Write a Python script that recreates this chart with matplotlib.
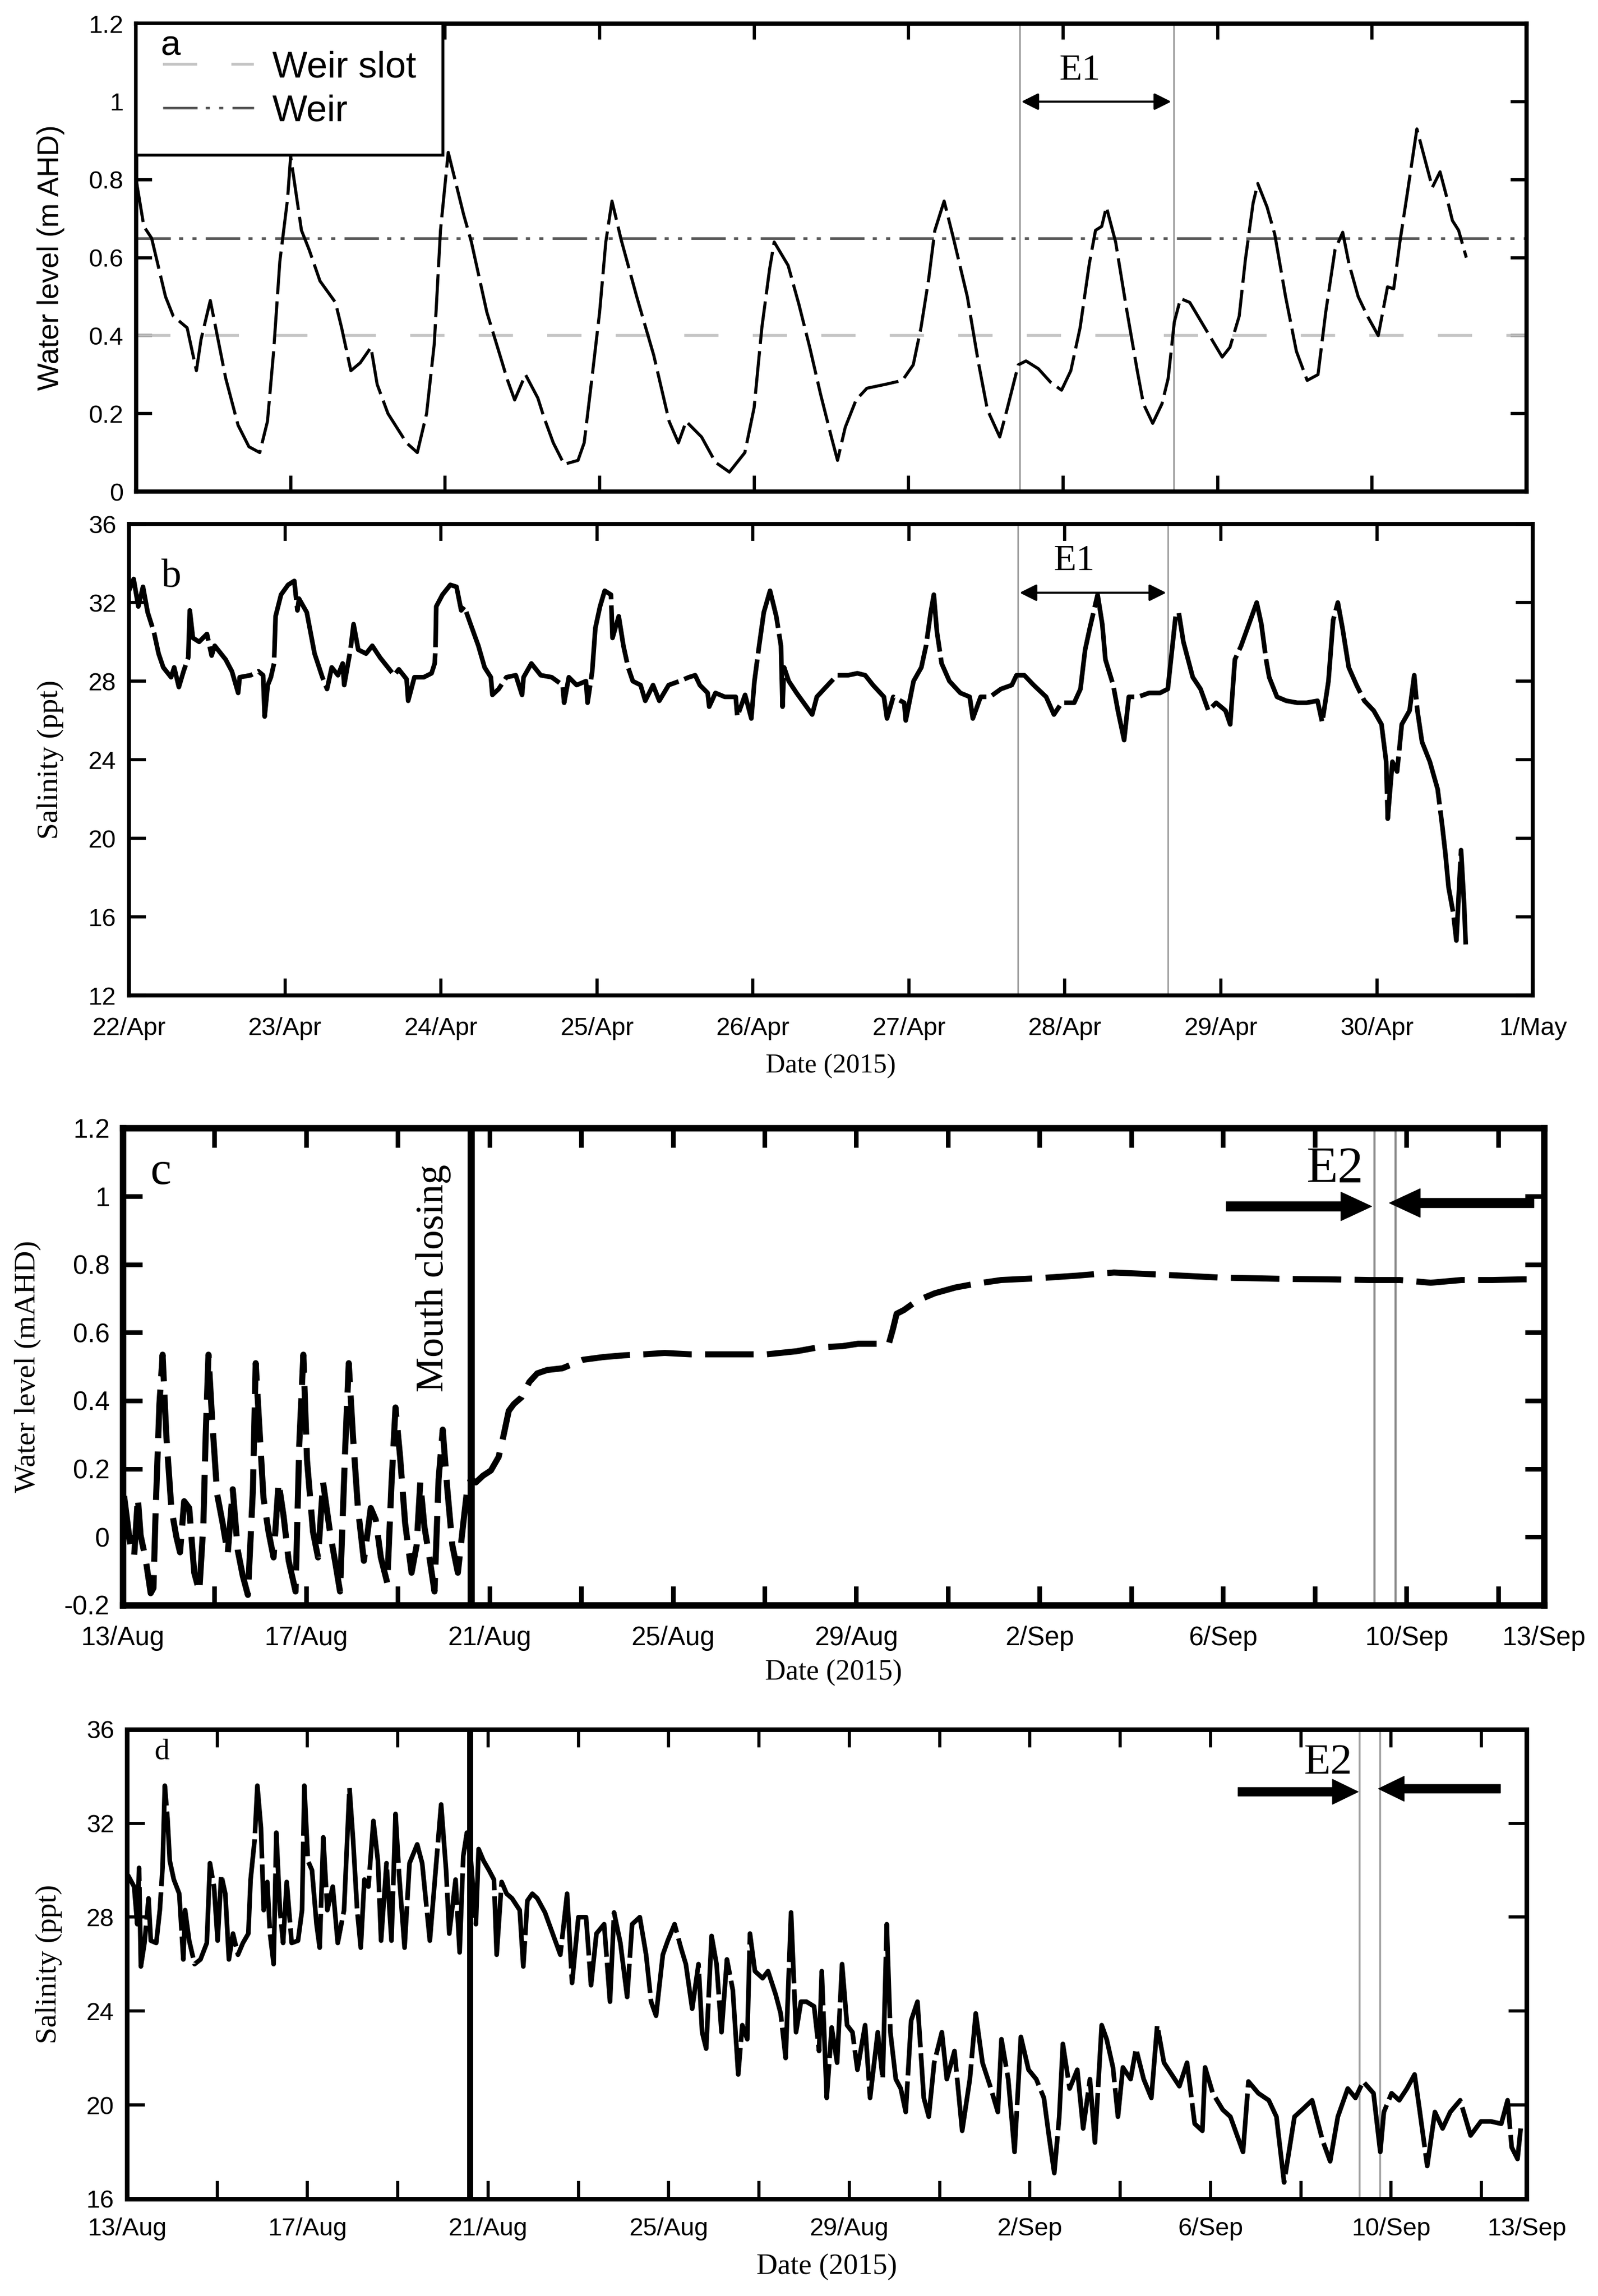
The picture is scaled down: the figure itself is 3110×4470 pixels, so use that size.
import matplotlib.pyplot as plt

plt.rcParams['font.family'] = ['Liberation Sans', 'DejaVu Sans']
SERIF = 'Liberation Serif'

#------------------------------------------------------------------------------
# Data  (time in days since 22/Apr/2015 00:00 for a,b and since 13/Aug/2015 for c,d)

# a: water level (m AHD), April
wl_apr = [
    (0.00, 0.80), (0.05, 0.68), (0.10, 0.65), (0.19, 0.50), (0.24, 0.45), (0.33, 0.42),
    (0.39, 0.31), (0.42, 0.39), (0.48, 0.49), (0.52, 0.41), (0.58, 0.29), (0.66, 0.17),
    (0.73, 0.115), (0.80, 0.10), (0.85, 0.18), (0.89, 0.36), (0.93, 0.59), (0.98, 0.75),
    (1.00, 0.86), (1.07, 0.67), (1.12, 0.62), (1.19, 0.54), (1.29, 0.485), (1.33, 0.42),
    (1.39, 0.31), (1.45, 0.33), (1.52, 0.37), (1.56, 0.275), (1.63, 0.20), (1.75, 0.125),
    (1.82, 0.10), (1.88, 0.20), (1.93, 0.38), (1.97, 0.67), (2.02, 0.87), (2.12, 0.71),
    (2.17, 0.64), (2.27, 0.46), (2.37, 0.33), (2.40, 0.29), (2.45, 0.235), (2.52, 0.30),
    (2.60, 0.24), (2.64, 0.19), (2.70, 0.125), (2.77, 0.07), (2.86, 0.08), (2.90, 0.125),
    (2.95, 0.29), (3.00, 0.46), (3.04, 0.64), (3.08, 0.745), (3.14, 0.645), (3.24, 0.50),
    (3.35, 0.35), (3.45, 0.18), (3.51, 0.125), (3.56, 0.18), (3.66, 0.14), (3.75, 0.075),
    (3.84, 0.05), (3.94, 0.10), (4.00, 0.215), (4.05, 0.42), (4.10, 0.57), (4.13, 0.64),
    (4.22, 0.58), (4.29, 0.48), (4.36, 0.37), (4.43, 0.25), (4.50, 0.14), (4.54, 0.08),
    (4.59, 0.165), (4.66, 0.235), (4.73, 0.265), (4.85, 0.275), (4.96, 0.285), (5.03, 0.325),
    (5.08, 0.42), (5.13, 0.545), (5.17, 0.67), (5.23, 0.745), (5.29, 0.65), (5.38, 0.50),
    (5.45, 0.335), (5.51, 0.21), (5.59, 0.14), (5.64, 0.215), (5.71, 0.325), (5.76, 0.335),
    (5.84, 0.315), (5.92, 0.28), (5.99, 0.26), (6.05, 0.31), (6.11, 0.42), (6.17, 0.585),
    (6.21, 0.67), (6.25, 0.68), (6.28, 0.73), (6.34, 0.64), (6.41, 0.47), (6.48, 0.31),
    (6.52, 0.225), (6.58, 0.175), (6.64, 0.225), (6.68, 0.29), (6.72, 0.435), (6.76, 0.495),
    (6.82, 0.485), (6.91, 0.425), (6.97, 0.385), (7.03, 0.345), (7.08, 0.37), (7.14, 0.45),
    (7.18, 0.595), (7.23, 0.74), (7.26, 0.79), (7.32, 0.73), (7.37, 0.66), (7.44, 0.50),
    (7.51, 0.36), (7.58, 0.285), (7.65, 0.30), (7.70, 0.46), (7.76, 0.62), (7.81, 0.665),
    (7.85, 0.585), (7.91, 0.50), (7.97, 0.45), (8.04, 0.40), (8.10, 0.525), (8.14, 0.52),
    (8.18, 0.64), (8.23, 0.77), (8.29, 0.93), (8.34, 0.855), (8.39, 0.78), (8.44, 0.82),
    (8.48, 0.76), (8.52, 0.695), (8.56, 0.67), (8.61, 0.60),
]

# b: salinity (ppt), April
sal_apr = [
    (0.00, 32.6), (0.03, 33.2), (0.06, 31.8), (0.09, 32.8), (0.12, 31.5), (0.16, 30.5),
    (0.19, 29.4), (0.22, 28.7), (0.27, 28.2), (0.29, 28.7), (0.32, 27.7), (0.35, 28.5),
    (0.38, 29.2), (0.39, 31.6), (0.41, 30.2), (0.45, 30.0), (0.50, 30.4), (0.53, 29.3),
    (0.55, 29.8), (0.62, 29.1), (0.66, 28.5), (0.70, 27.4), (0.71, 28.2), (0.78, 28.3),
    (0.83, 28.5), (0.86, 28.3), (0.87, 26.2), (0.89, 27.8), (0.91, 28.2), (0.93, 28.9),
    (0.94, 31.3), (0.975, 32.4), (1.02, 32.9), (1.06, 33.1), (1.08, 31.6), (1.09, 32.2),
    (1.14, 31.5), (1.19, 29.4), (1.24, 28.2), (1.27, 27.6), (1.30, 28.7), (1.34, 28.3),
    (1.37, 28.9), (1.38, 27.8), (1.42, 29.6), (1.44, 30.9), (1.47, 29.6), (1.52, 29.4),
    (1.56, 29.8), (1.61, 29.2), (1.66, 28.7), (1.70, 28.3), (1.73, 28.6), (1.78, 28.1),
    (1.79, 27.0), (1.83, 28.2), (1.89, 28.2), (1.94, 28.4), (1.96, 28.9), (1.965, 29.6),
    (1.97, 31.8), (2.01, 32.4), (2.06, 32.9), (2.10, 32.8), (2.13, 31.6), (2.15, 31.8),
    (2.19, 30.9), (2.24, 29.8), (2.28, 28.7), (2.32, 28.2), (2.33, 27.3), (2.37, 27.6),
    (2.42, 28.2), (2.48, 28.3), (2.52, 27.3), (2.53, 28.2), (2.58, 28.9), (2.64, 28.3),
    (2.71, 28.2), (2.78, 27.8), (2.79, 26.9), (2.82, 28.2), (2.87, 27.8), (2.93, 28.0),
    (2.94, 26.9), (2.97, 28.5), (2.99, 30.7), (3.02, 31.8), (3.05, 32.6), (3.09, 32.4),
    (3.10, 30.2), (3.14, 31.3), (3.17, 29.8), (3.20, 28.7), (3.23, 28.0), (3.28, 27.8),
    (3.31, 27.0), (3.36, 27.8), (3.40, 27.0), (3.46, 27.8), (3.53, 28.0), (3.59, 28.2),
    (3.63, 28.3), (3.66, 27.8), (3.71, 27.4), (3.72, 26.7), (3.76, 27.4), (3.82, 27.2),
    (3.89, 27.2), (3.90, 26.2), (3.95, 27.3), (3.99, 26.1), (4.01, 28.0), (4.04, 29.8),
    (4.07, 31.5), (4.11, 32.6), (4.15, 31.3), (4.18, 29.8), (4.19, 26.7), (4.20, 28.7),
    (4.23, 28.0), (4.28, 27.4), (4.38, 26.3), (4.41, 27.2), (4.48, 27.8), (4.54, 28.3),
    (4.61, 28.3), (4.67, 28.4), (4.72, 28.3), (4.77, 27.8), (4.84, 27.2), (4.86, 26.1),
    (4.90, 27.2), (4.97, 26.9), (4.98, 26.0), (5.03, 28.0), (5.08, 28.7), (5.11, 29.8),
    (5.14, 31.5), (5.16, 32.4), (5.18, 30.5), (5.21, 28.9), (5.26, 28.0), (5.33, 27.4),
    (5.39, 27.2), (5.41, 26.1), (5.46, 27.2), (5.52, 27.2), (5.59, 27.6), (5.66, 27.8),
    (5.69, 28.3), (5.74, 28.3), (5.80, 27.8), (5.88, 27.2), (5.93, 26.3), (5.98, 26.9),
    (6.06, 26.9), (6.10, 27.6), (6.13, 29.6), (6.16, 30.7), (6.21, 32.4), (6.24, 30.9),
    (6.26, 29.1), (6.31, 27.8), (6.34, 26.5), (6.38, 25.0), (6.41, 27.2), (6.47, 27.2),
    (6.54, 27.4), (6.61, 27.4), (6.66, 27.6), (6.71, 31.3), (6.73, 31.5), (6.76, 30.0),
    (6.79, 29.1), (6.82, 28.2), (6.87, 27.6), (6.92, 26.5), (6.97, 26.9), (7.03, 26.5),
    (7.06, 25.8), (7.09, 29.1), (7.13, 29.8), (7.18, 30.9), (7.23, 32.0), (7.26, 30.9),
    (7.29, 29.1), (7.31, 28.2), (7.36, 27.2), (7.42, 27.0), (7.49, 26.9), (7.55, 26.9),
    (7.62, 27.0), (7.65, 25.9), (7.69, 28.0), (7.72, 31.1), (7.75, 32.0), (7.78, 30.7),
    (7.82, 28.7), (7.87, 27.8), (7.92, 27.0), (7.98, 26.5), (8.03, 25.8), (8.06, 23.9),
    (8.07, 21.0), (8.10, 23.9), (8.13, 23.4), (8.16, 25.8), (8.21, 26.5), (8.24, 28.3),
    (8.26, 26.5), (8.29, 24.9), (8.34, 23.9), (8.39, 22.5), (8.42, 20.6), (8.44, 19.2),
    (8.46, 17.5), (8.49, 16.2), (8.51, 14.8), (8.54, 19.4), (8.56, 16.6), (8.57, 14.6),
]

# c: water level (mAHD), August-September
wl_aug = [
    (0.03, 0.12), (0.17, -0.03), (0.25, -0.055), (0.33, 0.115), (0.39, 0.005), (0.50, -0.065),
    (0.61, -0.165), (0.67, -0.15), (0.72, 0.085), (0.80, 0.39), (0.87, 0.535), (0.95, 0.30),
    (1.06, 0.085), (1.17, 0.0), (1.25, -0.045), (1.34, 0.105), (1.45, 0.085), (1.56, -0.105),
    (1.67, -0.16), (1.76, 0.04), (1.81, 0.30), (1.87, 0.535), (1.95, 0.345), (2.06, 0.125),
    (2.18, 0.04), (2.29, -0.05), (2.40, 0.14), (2.51, -0.04), (2.62, -0.115), (2.73, -0.17),
    (2.84, 0.14), (2.90, 0.51), (2.99, 0.30), (3.07, 0.115), (3.18, 0.015), (3.29, -0.06),
    (3.40, 0.16), (3.51, 0.06), (3.62, -0.07), (3.77, -0.16), (3.85, 0.27), (3.94, 0.535),
    (4.02, 0.225), (4.15, 0.015), (4.26, -0.06), (4.37, 0.16), (4.52, 0.015), (4.63, -0.07),
    (4.74, -0.16), (4.85, 0.25), (4.93, 0.51), (5.02, 0.30), (5.13, 0.085), (5.26, -0.07),
    (5.41, 0.085), (5.52, 0.05), (5.63, -0.06), (5.77, -0.135), (5.86, 0.15), (5.95, 0.38),
    (6.05, 0.235), (6.16, 0.04), (6.30, -0.105), (6.41, -0.025), (6.49, 0.16), (6.58, 0.03),
    (6.69, -0.06), (6.80, -0.16), (6.89, 0.17), (6.98, 0.315), (7.08, 0.14), (7.19, -0.025),
    (7.31, -0.105), (7.42, 0.03), (7.50, 0.125), (7.59, 0.17), (7.70, 0.16), (7.86, 0.18),
    (8.03, 0.195), (8.20, 0.235), (8.31, 0.30), (8.42, 0.37), (8.53, 0.39), (8.70, 0.41),
    (8.87, 0.455), (9.04, 0.48), (9.26, 0.49), (9.59, 0.495), (10.04, 0.52), (10.49, 0.528),
    (10.93, 0.533), (11.38, 0.536), (11.82, 0.54), (12.38, 0.536), (12.94, 0.536), (13.50, 0.536),
    (14.05, 0.536), (14.70, 0.545), (15.15, 0.556), (15.70, 0.56), (16.04, 0.567), (16.71, 0.567),
    (16.80, 0.61), (16.88, 0.655), (17.04, 0.666), (17.32, 0.693), (17.71, 0.715), (18.16, 0.732),
    (18.60, 0.743), (19.16, 0.754), (19.94, 0.759), (20.83, 0.767), (21.62, 0.776), (22.29, 0.772),
    (23.07, 0.767), (23.96, 0.761), (24.74, 0.759), (25.41, 0.757), (26.30, 0.756), (27.19, 0.754),
    (27.86, 0.754), (28.53, 0.746), (29.20, 0.754), (29.87, 0.754), (30.54, 0.756), (30.87, 0.756),
]

# d: salinity (ppt), August-September
sal_aug = [
    (0.02, 29.8), (0.16, 29.3), (0.23, 27.7), (0.27, 30.1), (0.31, 25.9), (0.39, 26.9),
    (0.48, 28.8), (0.53, 27.0), (0.65, 26.9), (0.73, 28.3), (0.79, 30.1), (0.84, 33.6),
    (0.90, 32.2), (0.95, 30.4), (1.04, 29.6), (1.16, 29.0), (1.25, 26.2), (1.29, 28.3),
    (1.38, 27.0), (1.50, 26.0), (1.63, 26.2), (1.77, 26.9), (1.84, 30.3), (1.93, 29.3),
    (2.01, 27.0), (2.09, 29.8), (2.18, 29.0), (2.26, 26.2), (2.35, 27.3), (2.46, 26.4),
    (2.57, 26.9), (2.69, 27.3), (2.74, 29.6), (2.83, 31.3), (2.89, 33.6), (2.97, 31.8),
    (3.03, 28.3), (3.11, 29.5), (3.17, 27.3), (3.25, 26.0), (3.31, 31.6), (3.39, 28.3),
    (3.46, 26.9), (3.54, 29.5), (3.65, 26.9), (3.79, 27.0), (3.88, 28.3), (3.93, 33.6),
    (4.01, 30.4), (4.10, 30.0), (4.20, 27.7), (4.27, 26.7), (4.35, 31.4), (4.44, 28.3),
    (4.56, 29.3), (4.67, 26.9), (4.81, 28.3), (4.93, 33.5), (5.01, 31.3), (5.10, 28.3),
    (5.18, 26.7), (5.26, 29.6), (5.35, 29.3), (5.46, 32.1), (5.56, 30.4), (5.63, 27.0),
    (5.75, 30.3), (5.86, 27.0), (5.95, 32.4), (6.03, 29.8), (6.15, 26.7), (6.26, 30.3),
    (6.43, 31.1), (6.54, 30.3), (6.71, 27.0), (6.83, 29.8), (6.96, 32.8), (7.07, 30.0),
    (7.14, 27.3), (7.28, 29.6), (7.37, 26.5), (7.45, 30.6), (7.53, 31.6), (7.62, 30.4),
    (7.73, 27.7), (7.79, 30.9), (7.90, 30.4), (8.02, 30.0), (8.13, 29.6), (8.19, 26.4),
    (8.30, 29.5), (8.41, 29.0), (8.53, 28.8), (8.70, 28.3), (8.78, 25.9), (8.87, 28.7),
    (8.98, 29.0), (9.09, 28.8), (9.26, 28.2), (9.43, 27.3), (9.60, 26.4), (9.75, 29.0),
    (9.86, 25.2), (10.00, 28.0), (10.17, 28.0), (10.28, 25.1), (10.40, 27.3), (10.57, 27.7),
    (10.70, 24.4), (10.79, 28.2), (10.93, 26.9), (11.08, 24.6), (11.19, 27.7), (11.36, 28.0),
    (11.50, 26.4), (11.61, 24.4), (11.72, 23.8), (11.87, 26.4), (11.98, 27.0), (12.13, 27.7),
    (12.27, 26.7), (12.38, 26.0), (12.52, 24.1), (12.66, 26.0), (12.74, 23.1), (12.83, 22.4),
    (12.95, 27.2), (13.06, 26.0), (13.17, 23.1), (13.29, 26.2), (13.42, 24.9), (13.54, 21.3),
    (13.63, 23.4), (13.74, 22.8), (13.80, 27.3), (13.91, 25.7), (14.08, 25.4), (14.20, 25.7),
    (14.37, 24.7), (14.48, 23.9), (14.59, 22.0), (14.71, 28.2), (14.82, 23.1), (14.93, 24.4),
    (15.05, 24.4), (15.22, 24.2), (15.33, 22.3), (15.39, 25.7), (15.50, 20.3), (15.61, 23.3),
    (15.73, 21.8), (15.84, 26.0), (15.95, 23.4), (16.07, 23.1), (16.18, 21.5), (16.35, 23.4),
    (16.46, 20.3), (16.63, 23.1), (16.74, 21.1), (16.83, 27.7), (16.91, 23.1), (17.03, 21.1),
    (17.14, 20.7), (17.25, 19.7), (17.37, 23.6), (17.51, 24.4), (17.65, 20.3), (17.76, 19.5),
    (17.88, 21.8), (18.05, 23.1), (18.16, 21.1), (18.33, 22.3), (18.50, 18.9), (18.67, 21.1),
    (18.80, 23.9), (18.95, 21.8), (19.12, 20.8), (19.29, 19.7), (19.37, 22.8), (19.52, 21.1),
    (19.66, 18.0), (19.80, 22.9), (19.97, 21.5), (20.14, 21.1), (20.31, 20.3), (20.42, 18.7),
    (20.54, 17.1), (20.65, 19.5), (20.73, 22.6), (20.88, 20.7), (21.05, 21.5), (21.18, 19.0),
    (21.33, 21.1), (21.44, 18.4), (21.59, 23.4), (21.70, 22.8), (21.84, 21.6), (21.95, 19.5),
    (22.06, 21.6), (22.23, 21.1), (22.35, 22.4), (22.52, 21.1), (22.69, 20.3), (22.82, 23.4),
    (22.97, 21.8), (23.14, 21.3), (23.31, 20.8), (23.48, 21.8), (23.65, 19.2), (23.82, 18.9),
    (23.88, 21.6), (24.05, 20.5), (24.27, 19.8), (24.44, 19.5), (24.72, 18.0), (24.84, 21.0),
    (25.06, 20.5), (25.29, 20.2), (25.46, 19.5), (25.63, 16.7), (25.86, 19.5), (26.03, 19.8),
    (26.25, 20.2), (26.48, 18.5), (26.65, 17.6), (26.82, 19.5), (27.04, 20.7), (27.21, 20.3),
    (27.38, 21.0), (27.61, 20.5), (27.76, 18.0), (27.84, 19.7), (28.01, 20.5), (28.18, 20.2),
    (28.35, 20.7), (28.52, 21.3), (28.63, 19.8), (28.80, 17.4), (28.88, 18.5), (28.97, 19.7),
    (29.14, 19.0), (29.31, 19.7), (29.53, 20.2), (29.76, 18.7), (29.99, 19.3), (30.21, 19.3),
    (30.44, 19.2), (30.58, 20.2), (30.67, 18.2), (30.80, 17.7), (30.87, 19.0),
]

weir_slot = 0.4
weir = 0.65
e1_a = [5.72, 6.72]
e1_b = [5.70, 6.66]
mouth_closing = 7.6
e2 = [27.30, 27.76]

apr_ticks = list(range(10))
apr_labels = ['22/Apr', '23/Apr', '24/Apr', '25/Apr', '26/Apr', '27/Apr',
              '28/Apr', '29/Apr', '30/Apr', '1/May']
aug_ticks = list(range(0, 31, 2)) + [31]
aug_labels = ['13/Aug', '', '17/Aug', '', '21/Aug', '', '25/Aug', '', '29/Aug', '',
              '2/Sep', '', '6/Sep', '', '10/Sep', '', '13/Sep']

wl_a_ticks = [0, 0.2, 0.4, 0.6, 0.8, 1.0, 1.2]
wl_a_labels = ['0', '0.2', '0.4', '0.6', '0.8', '1', '1.2']
wl_c_ticks = [-0.2, 0, 0.2, 0.4, 0.6, 0.8, 1.0, 1.2]
wl_c_labels = ['-0.2', '0', '0.2', '0.4', '0.6', '0.8', '1', '1.2']
sal_b_ticks = [12, 16, 20, 24, 28, 32, 36]
sal_d_ticks = [16, 20, 24, 28, 32, 36]


def split(pairs):
    return [p[0] for p in pairs], [p[1] for p in pairs]


def frame(ax, lw, tick_len, tick_w, labelsize, xpad, ypad):
    for sp in ax.spines.values():
        sp.set_linewidth(lw)
    ax.tick_params(direction='in', top=True, right=True, length=tick_len,
                   width=tick_w, labelsize=labelsize)
    ax.tick_params(axis='x', pad=xpad)
    ax.tick_params(axis='y', pad=ypad)


#------------------------------------------------------------------------------
# Plot

fig = plt.figure(figsize=(31.1, 44.7), dpi=100)

ax_a = fig.add_axes([0.0852, 0.7859, 0.8701, 0.2038])
ax_b = fig.add_axes([0.0807, 0.5664, 0.8785, 0.2054])
ax_c = fig.add_axes([0.0768, 0.3009, 0.8894, 0.2078])
ax_d = fig.add_axes([0.0794, 0.0423, 0.8759, 0.2045])

# --- a
ax = ax_a
t, v = split(wl_apr)
ax.plot(t, v, color='k', lw=4.3, dashes=(14, 2.3), zorder=3)
slot_line = ax.axhline(weir_slot, color='#c4c4c4', lw=4, dashes=(12, 12),
                       label='Weir slot', zorder=2)
weir_line = ax.axhline(weir, color='#555555', lw=3.6,
                       dashes=(13.4, 3.2, 1.6, 3.6, 1.6, 3.6), label='Weir', zorder=2)
for x in e1_a:
    ax.axvline(x, color='#a8a8a8', lw=2.8, zorder=1)
ax.annotate('', xy=(e1_a[1] - 0.02, 1.0), xytext=(e1_a[0] + 0.01, 1.0),
            arrowprops=dict(arrowstyle='<|-|>', mutation_scale=50, lw=3,
                            color='k', shrinkA=0, shrinkB=0))
ax.text(6.11, 1.08, 'E1', family=SERIF, fontsize=52, ha='center', va='center')
leg = ax.legend(handles=[slot_line, weir_line], loc='upper left',
                bbox_to_anchor=(0, 1), borderaxespad=0, fontsize=52,
                handlelength=2.45, handletextpad=0.5, labelspacing=0.25,
                borderpad=0.72, fancybox=False, edgecolor='k', framealpha=1)
leg.get_frame().set_linewidth(4)
ax.text(0.025, 0.952, 'a', transform=ax.transAxes, fontsize=50,
        ha='center', va='center', zorder=10)
ax.set_xlim(0, 9)
ax.set_ylim(0, 1.2)
ax.set_xticks(apr_ticks)
ax.set_xticklabels([])
ax.set_yticks(wl_a_ticks)
ax.set_yticklabels(wl_a_labels)
frame(ax, 6, 22, 4.5, 35, 26, 18)
ax.set_ylabel('Water level (m AHD)', fontsize=41)
ax.yaxis.set_label_coords(-0.0514, 0.5)

# --- b
ax = ax_b
t, v = split(sal_apr)
ax.plot(t, v, color='k', lw=6.5, dashes=(22, 1.3), zorder=3)
for x in e1_b:
    ax.axvline(x, color='#a0a0a0', lw=2.2, zorder=1)
ax.annotate('', xy=(e1_b[1] - 0.01, 32.5), xytext=(e1_b[0] + 0.01, 32.5),
            arrowprops=dict(arrowstyle='<|-|>', mutation_scale=50, lw=3,
                            color='k', shrinkA=0, shrinkB=0))
ax.text(6.06, 34.1, 'E1', family=SERIF, fontsize=52, ha='center', va='center')
ax.text(0.27, 33.3, 'b', family=SERIF, fontsize=56, ha='center', va='center')
ax.set_xlim(0, 9)
ax.set_ylim(12, 36)
ax.set_xticks(apr_ticks)
ax.set_xticklabels(apr_labels)
ax.set_yticks(sal_b_ticks)
frame(ax, 5.5, 24, 4.5, 35, 30, 18)
ax.set_ylabel('Salinity (ppt)', family=SERIF, fontsize=42)
ax.yaxis.set_label_coords(-0.0465, 0.5)
ax.set_xlabel('Date (2015)', family=SERIF, fontsize=38)
ax.xaxis.set_label_coords(0.5, -0.124)

# --- c
ax = ax_c
t, v = split(wl_aug)
ax.plot(t, v, color='k', lw=8.5, dashes=(8, 2.2), zorder=3)
ax.axvline(mouth_closing, color='k', lw=10, zorder=4)
for x in e2:
    ax.axvline(x, color='#8a8a8a', lw=3, zorder=1)
ax.annotate('', xy=(27.24, 0.97), xytext=(24.07, 0.97),
            arrowprops=dict(width=13, headwidth=40, headlength=43,
                            facecolor='k', edgecolor='k', shrink=0))
ax.annotate('', xy=(27.63, 0.98), xytext=(30.78, 0.98),
            arrowprops=dict(width=13, headwidth=40, headlength=43,
                            facecolor='k', edgecolor='k', shrink=0))
ax.text(26.44, 1.078, 'E2', family=SERIF, fontsize=72, ha='center', va='center')
ax.text(0.83, 1.07, 'c', family=SERIF, fontsize=66, ha='center', va='center')
ax.text(6.78, 0.76, 'Mouth closing', family=SERIF, fontsize=55, rotation=90,
        ha='center', va='center')
ax.set_xlim(0, 31)
ax.set_ylim(-0.2, 1.2)
ax.set_xticks(aug_ticks)
ax.set_xticklabels(aug_labels)
ax.set_yticks(wl_c_ticks)
ax.set_yticklabels(wl_c_labels)
frame(ax, 9, 27, 6.5, 37, 29, 18)
ax.set_ylabel('Water level (mAHD)', family=SERIF, fontsize=42)
ax.yaxis.set_label_coords(-0.0575, 0.5)
ax.set_xlabel('Date (2015)', family=SERIF, fontsize=40)
ax.xaxis.set_label_coords(0.5, -0.113)

# --- d
ax = ax_d
t, v = split(sal_aug)
ax.plot(t, v, color='k', lw=6.5, dashes=(26, 1.3), zorder=3)
ax.axvline(mouth_closing, color='k', lw=8.5, zorder=4)
for x in e2:
    ax.axvline(x, color='#a0a0a0', lw=2.6, zorder=1)
ax.annotate('', xy=(27.27, 33.34), xytext=(24.61, 33.34),
            arrowprops=dict(width=12, headwidth=35, headlength=36,
                            facecolor='k', edgecolor='k', shrink=0))
ax.annotate('', xy=(27.72, 33.47), xytext=(30.42, 33.47),
            arrowprops=dict(width=12, headwidth=35, headlength=36,
                            facecolor='k', edgecolor='k', shrink=0))
ax.text(26.6, 34.53, 'E2', family=SERIF, fontsize=61, ha='center', va='center')
ax.text(0.785, 35.05, 'd', family=SERIF, fontsize=42, ha='center', va='center')
ax.set_xlim(0, 31)
ax.set_ylim(16, 36)
ax.set_xticks(aug_ticks)
ax.set_xticklabels(aug_labels)
ax.set_yticks(sal_d_ticks)
frame(ax, 6.5, 25, 4.5, 35, 26, 18)
ax.set_ylabel('Salinity (ppt)', family=SERIF, fontsize=42)
ax.yaxis.set_label_coords(-0.0463, 0.5)
ax.set_xlabel('Date (2015)', family=SERIF, fontsize=41)
ax.xaxis.set_label_coords(0.5, -0.116)

plt.savefig('out.png', dpi=100, facecolor='white')
